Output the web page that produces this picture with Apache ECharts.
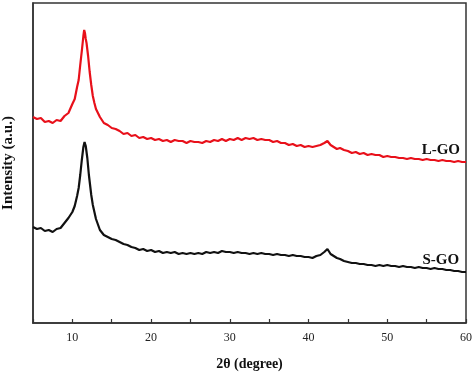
<!DOCTYPE html>
<html>
<head>
<meta charset="utf-8">
<script src="https://cdn.jsdelivr.net/npm/echarts@6/dist/echarts.min.js"></script>
<style>html,body{margin:0;padding:0;background:#fff;}#c{width:474px;height:373px;}</style>
</head>
<body>
<div id="c"></div>
<script>
// L-GO (red) pattern
const lgoTheta = [5.0,5.5,6.0,6.5,7.0,7.5,8.0,8.5,9.0,9.5,10.0,10.3,10.6,10.8,11.0,11.2,11.4,11.5,11.6,11.7,11.8,12.0,12.2,12.4,12.6,12.8,13.0,13.5,14.0,14.5,15.0,15.5,16.0,16.5,17.0,17.5,18.0,18.5,19.0,19.5,20.0,20.5,21.0,21.5,22.0,22.5,23.0,23.5,24.0,24.5,25.0,25.5,26.0,26.5,27.0,27.5,28.0,28.5,29.0,29.5,30.0,30.5,31.0,31.5,32.0,32.5,33.0,33.5,34.0,34.5,35.0,35.5,36.0,36.5,37.0,37.5,38.0,38.5,39.0,39.5,40.0,40.5,41.0,41.5,42.0,42.4,42.8,43.2,43.6,44.0,44.5,45.0,45.5,46.0,46.5,47.0,47.5,48.0,48.5,49.0,49.5,50.0,50.5,51.0,51.5,52.0,52.5,53.0,53.5,54.0,54.5,55.0,55.5,56.0,56.5,57.0,57.5,58.0,58.5,59.0,59.5,60.0];
const lgoIntensity = [206,204,205,201,202,200,203,202,207,210,219,224,236,243,258,272,287,293,290,284,280,267,251,238,227,220,214,206,200,198,195,194,192,189,190,187,188,185,186,184,185,183,184,182,183,181,183,182,182,180,182,181,181,180,182,181,183,182,184,182,184,183,185,183,185,184,185,183,184,183,183,181,182,180,180,178,179,177,178,176,177,176,177,178,180,182,178,176,174,175,173,172,170,171,169,170,168,169,168,168,166,167,166,166,165,165,164,165,164,164,163,164,163,163,162,163,162,162,161,162,161,161];
// S-GO (black) pattern
const sgoTheta = [5.0,5.5,6.0,6.5,7.0,7.5,8.0,8.5,9.0,9.5,10.0,10.3,10.6,10.8,11.0,11.2,11.4,11.55,11.7,11.9,12.1,12.4,12.6,12.8,13.0,13.5,14.0,14.5,15.0,15.5,16.0,16.5,17.0,17.5,18.0,18.5,19.0,19.5,20.0,20.5,21.0,21.5,22.0,22.5,23.0,23.5,24.0,24.5,25.0,25.5,26.0,26.5,27.0,27.5,28.0,28.5,29.0,29.5,30.0,30.5,31.0,31.5,32.0,32.5,33.0,33.5,34.0,34.5,35.0,35.5,36.0,36.5,37.0,37.5,38.0,38.5,39.0,39.5,40.0,40.5,41.0,41.5,42.0,42.4,42.8,43.2,43.6,44.0,44.5,45.0,45.5,46.0,46.5,47.0,47.5,48.0,48.5,49.0,49.5,50.0,50.5,51.0,51.5,52.0,52.5,53.0,53.5,54.0,54.5,55.0,55.5,56.0,56.5,57.0,57.5,58.0,58.5,59.0,59.5,60.0];
const sgoIntensity = [96,94,95,92,93,91,94,95,100,105,111,117,127,135,148,163,176,181,177,165,148,128,118,111,104,93,88,86,84,83,81,79,78,76,75,73,74,72,73,71,72,70,71,70,71,69,70,69,70,69,70,69,71,70,71,70,72,71,71,70,71,70,70,69,70,69,70,69,69,68,69,68,68,67,68,67,67,66,66,65,67,68,71,74,69,67,65,64,62,61,60,60,59,59,58,58,57,58,57,58,57,57,56,57,56,56,55,56,55,55,54,55,54,54,53,53,52,52,51,51];
const xTickLabels = ['10','20','30','40','50','60'];
const seriesNames = ['L-GO','S-GO'];
const labelPos = [[56.8,173],[56.8,63]];

const pair = (xs, ys) => xs.map((x, i) => [x, ys[i]]);
const serif = "'Liberation Serif','Times New Roman',serif";

const chart = echarts.init(document.getElementById('c'), null, {renderer: 'canvas'});
const mk = (name, color, xs, ys, pos) => ({
  name, type: 'line', data: pair(xs, ys), showSymbol: false, symbol: 'none',
  lineStyle: {color, width: 2.2}, animation: false,
  markPoint: {
    symbol: 'circle', symbolSize: 0, silent: true,
    data: [{coord: pos, value: name}],
    label: {show: true, position: 'inside', formatter: name, color: '#111',
      fontFamily: serif, fontWeight: 'bold', fontSize: 15}
  }
});

chart.setOption({
  animation: false,
  grid: {left: 33, right: 8, top: 3, bottom: 50, containLabel: false, outerBoundsMode: 'none',
    show: true, borderColor: '#333', borderWidth: 1.5},
  xAxis: {
    type: 'value', min: 5, max: 60, interval: 5,
    axisLine: {lineStyle: {color: '#333', width: 1.5}},
    axisTick: {inside: true, length: 4, lineStyle: {color: '#333', width: 1.2}},
    axisLabel: {color: '#222', fontFamily: serif, fontSize: 12, margin: 9, hideOverlap: false,
      showMaxLabel: true, showMinLabel: true,
      formatter: v => xTickLabels.indexOf(String(v)) >= 0 ? String(v) : ''},
    splitLine: {show: false},
    name: '2θ (degree)', nameLocation: 'middle', nameGap: 34,
    nameTextStyle: {color: '#111', fontFamily: serif, fontWeight: 'bold', fontSize: 14}
  },
  yAxis: {
    type: 'value', min: 0, max: 320,
    axisLine: {show: true, lineStyle: {color: '#333', width: 1.5}},
    axisTick: {show: false}, axisLabel: {show: false}, splitLine: {show: false},
    name: 'Intensity (a.u.)', nameLocation: 'middle', nameGap: 17, nameRotate: 90,
    nameTextStyle: {color: '#111', fontFamily: serif, fontWeight: 'bold', fontSize: 15}
  },
  series: [
    mk(seriesNames[0], '#e8101a', lgoTheta, lgoIntensity, labelPos[0]),
    mk(seriesNames[1], '#111111', sgoTheta, sgoIntensity, labelPos[1])
  ]
});
</script>
</body>
</html>
